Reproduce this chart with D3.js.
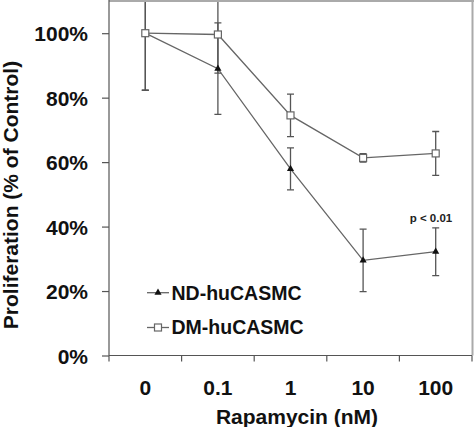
<!DOCTYPE html>
<html><head><meta charset="utf-8">
<script src="https://cdn.jsdelivr.net/npm/d3@7"></script>
<style>body{margin:0;background:#fff}svg{display:block}</style>
</head><body>
<script>
const categories = ["0","0.1","1","10","100"];
const ndValues = [100, 89, 57.9, 29.5, 32.2];
const ndErrors = [17.7, 14.2, 6.5, 9.7, 7.4];
const dmValues = [100, 99.6, 74.5, 61.3, 62.7];
const dmErrors = [17.7, 12, 6.6, 1.3, 6.8];
const yTicks = [0, 20, 40, 60, 80, 100];
const seriesNames = ["ND-huCASMC", "DM-huCASMC"];

const W = 474, H = 427;
const m = {left: 109, right: 2, top: 0, bottom: 71};
const svg = d3.select("body").append("svg").attr("width", W).attr("height", H);
const x = d3.scaleBand().domain(categories).range([m.left, W - m.right]);
const y = d3.scaleLinear().domain([0, 110.3]).range([H - m.bottom - 0.5, m.top]);
const axisColor = "#555";
const lineColor = "#666";
const font = "Liberation Sans, Arial, sans-serif";

// frame (top & right)
svg.append("line").attr("x1", m.left).attr("x2", W).attr("y1", 1).attr("y2", 1)
  .attr("stroke", "#aaa").attr("stroke-width", 2);
svg.append("line").attr("x1", W - 1.5).attr("x2", W - 1.5).attr("y1", 0).attr("y2", y(0))
  .attr("stroke", "#aaa").attr("stroke-width", 2);

svg.append("clipPath").attr("id", "c").append("rect")
  .attr("x", m.left).attr("y", 2).attr("width", W - m.left).attr("height", y(0) - 2);

// y axis
const ya = svg.append("g").attr("transform", `translate(${m.left},0)`)
  .call(d3.axisLeft(y).tickValues(yTicks).tickFormat(d => d + "%").tickSize(7).tickSizeOuter(0));
ya.select(".domain").attr("stroke", axisColor).attr("stroke-width", 1.2).attr("d", `M0,${y(0)}V0`);
ya.selectAll(".tick line").attr("stroke", axisColor).attr("stroke-width", 1.2);
ya.selectAll(".tick text").attr("font-family", font).attr("font-weight", "bold")
  .attr("font-size", 21).attr("fill", "#111").attr("x", -21).attr("dy", "0.36em");

// x axis
const xTickScale = d3.scaleLinear().domain([0, categories.length]).range([m.left, W - m.right]);
const xa = svg.append("g").attr("transform", `translate(0,${y(0)})`);
xa.append("line").attr("x1", m.left).attr("x2", W - m.right).attr("stroke", axisColor).attr("stroke-width", 1.2);
xa.selectAll("line.t").data(d3.range(categories.length + 1)).join("line").attr("class", "t")
  .attr("x1", d => xTickScale(d)).attr("x2", d => xTickScale(d)).attr("y1", 0).attr("y2", 6)
  .attr("stroke", axisColor).attr("stroke-width", 1.2);
xa.selectAll("text").data(categories).join("text")
  .attr("x", d => x(d) + x.bandwidth() / 2).attr("y", 39)
  .attr("text-anchor", "middle").attr("font-family", font).attr("font-weight", "bold")
  .attr("font-size", 21).attr("fill", "#111").text(d => d);

// axis titles
svg.append("text").attr("x", 297).attr("y", 424).attr("text-anchor", "middle")
  .attr("font-family", font).attr("font-weight", "bold").attr("font-size", 21).attr("fill", "#111")
  .text("Rapamycin (nM)");
svg.append("text").attr("transform", "translate(17.5,195) rotate(-90)").attr("text-anchor", "middle")
  .attr("font-family", font).attr("font-weight", "bold").attr("font-size", 21).attr("fill", "#111")
  .text("Proliferation (% of Control)");

const cx = d => x(d) + x.bandwidth() / 2;
const g = svg.append("g").attr("clip-path", "url(#c)");

function drawErr(vals, errs) {
  categories.forEach((c, i) => {
    const X = cx(c), y1 = y(vals[i] + errs[i]), y2 = y(vals[i] - errs[i]);
    g.append("line").attr("x1", X).attr("x2", X).attr("y1", y1).attr("y2", y2)
      .attr("stroke", "#555").attr("stroke-width", 1.3);
    [y1, y2].forEach(yy => g.append("line").attr("x1", X - 3.5).attr("x2", X + 3.5)
      .attr("y1", yy).attr("y2", yy).attr("stroke", "#555").attr("stroke-width", 1.3));
  });
}
drawErr(ndValues, ndErrors);
drawErr(dmValues, dmErrors);

const line = d3.line().x((d, i) => cx(categories[i])).y(d => y(d));
g.append("path").datum(ndValues).attr("d", line).attr("fill", "none").attr("stroke", lineColor).attr("stroke-width", 1.3);
g.append("path").datum(dmValues).attr("d", line).attr("fill", "none").attr("stroke", lineColor).attr("stroke-width", 1.3);

const tri = d3.symbol().type(d3.symbolTriangle).size(22);
g.selectAll("path.nd").data(ndValues).join("path").attr("class", "nd")
  .attr("d", tri).attr("transform", (d, i) => `translate(${cx(categories[i])},${y(d)})`).attr("fill", "#111");
g.selectAll("rect.dm").data(dmValues).join("rect").attr("class", "dm")
  .attr("x", (d, i) => cx(categories[i]) - 3.5).attr("y", d => y(d) - 3.5)
  .attr("width", 7).attr("height", 7).attr("fill", "#fff").attr("stroke", "#666").attr("stroke-width", 1.2);

// p-value annotation
svg.append("text").attr("x", 431).attr("y", 222).attr("text-anchor", "middle")
  .attr("font-family", font).attr("font-weight", "bold").attr("font-size", 11.5).attr("fill", "#222")
  .text("p < 0.01");

// legend
const lg = svg.append("g");
[292.7, 327.5].forEach((ly, i) => {
  lg.append("line").attr("x1", 147).attr("x2", 169).attr("y1", ly).attr("y2", ly)
    .attr("stroke", lineColor).attr("stroke-width", 1.3);
  if (i === 0) lg.append("path").attr("d", tri).attr("transform", `translate(158,${ly})`).attr("fill", "#111");
  else lg.append("rect").attr("x", 154.5).attr("y", ly - 3.5).attr("width", 7).attr("height", 7)
    .attr("fill", "#fff").attr("stroke", "#666").attr("stroke-width", 1.2);
  lg.append("text").attr("x", 171.5).attr("y", ly + 6.8).attr("font-family", font).attr("font-weight", "bold")
    .attr("font-size", 19.5).attr("fill", "#111").text(seriesNames[i]);
});
</script>
</body></html>
